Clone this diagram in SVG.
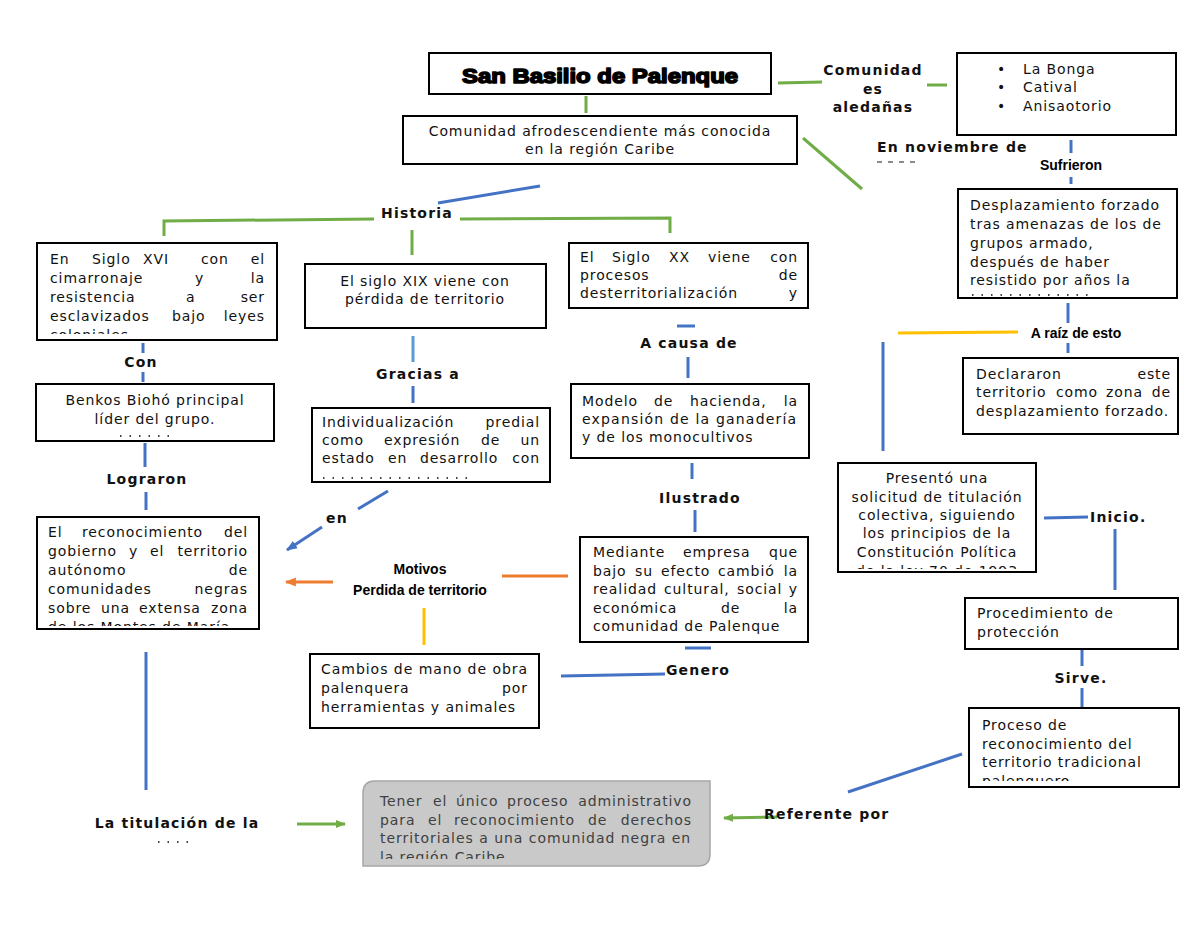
<svg xmlns="http://www.w3.org/2000/svg" width="1200" height="927" viewBox="0 0 1200 927">
<style>
.box{fill:#fff;stroke:#000;stroke-width:2}
.t{font-family:'DejaVu Sans',Verdana,sans-serif;font-size:14px;letter-spacing:0.9px;fill:#111}
.m{text-anchor:middle}
.e{text-anchor:end}
.lb{font-family:'DejaVu Sans',Verdana,sans-serif;font-weight:bold;font-size:14px;letter-spacing:1.2px;fill:#111}
.cb{font-family:'Liberation Sans',Arial,sans-serif;font-weight:bold;font-size:14px;fill:#000}
.gt{fill:#404040}
.g{stroke:#70ad47;stroke-width:3;fill:none}
.b{stroke:#4472c4;stroke-width:3;fill:none}
.lbl{stroke:#5b9bd5;stroke-width:3;fill:none}
.o{stroke:#ed7d31;stroke-width:3;fill:none}
.y{stroke:#ffc000;stroke-width:3;fill:none}
.rem{stroke:#444;stroke-width:2;stroke-dasharray:1.5 8;fill:none}
</style>
<defs>
<marker id="ag" viewBox="0 0 10 10" refX="9" refY="5" markerWidth="10" markerHeight="10" markerUnits="userSpaceOnUse" orient="auto"><path d="M0,1 L10,5 L0,9 z" fill="#70ad47"/></marker>
<marker id="ab" viewBox="0 0 10 10" refX="9" refY="5" markerWidth="11" markerHeight="11" markerUnits="userSpaceOnUse" orient="auto"><path d="M0,1 L10,5 L0,9 z" fill="#4472c4"/></marker>
<marker id="ao" viewBox="0 0 10 10" refX="9" refY="5" markerWidth="11" markerHeight="11" markerUnits="userSpaceOnUse" orient="auto"><path d="M0,1 L10,5 L0,9 z" fill="#ed7d31"/></marker>
<clipPath id="c-xvi"><rect x="38" y="244" width="238" height="90"/></clipPath>
<clipPath id="c-pres"><rect x="839" y="464" width="196" height="105"/></clipPath>
<clipPath id="c-proceso"><rect x="970" y="709" width="208" height="72"/></clipPath>
<clipPath id="c-recon"><rect x="38" y="518" width="220" height="108"/></clipPath>
<clipPath id="c-gray"><rect x="364" y="782" width="345" height="77"/></clipPath>
</defs>
<rect width="1200" height="927" fill="#fff"/>

<g id="connectors">
<line class="g" x1="778" y1="83" x2="822" y2="82"/>
<line class="g" x1="927" y1="85" x2="947" y2="85"/>
<line class="g" x1="586" y1="96" x2="586" y2="113"/>
<line class="g" x1="803" y1="138" x2="862" y2="189"/>
<polyline class="g" points="374,219 164,221 164,236"/>
<polyline class="g" points="460,219 670,218 670,233"/>
<line class="g" x1="412" y1="230" x2="412" y2="255"/>
<line class="g" x1="297" y1="824" x2="345" y2="824" marker-end="url(#ag)"/>
<line class="g" x1="777" y1="817" x2="724" y2="818" marker-end="url(#ag)"/>
<line class="b" x1="438" y1="203" x2="540" y2="186"/>
<line class="b" x1="143" y1="343" x2="143" y2="353"/>
<line class="b" x1="143" y1="372" x2="143" y2="382"/>
<line class="b" x1="145" y1="443" x2="145" y2="467"/>
<line class="b" x1="146" y1="492" x2="146" y2="510"/>
<line class="b" x1="146" y1="652" x2="146" y2="790"/>
<line class="b" x1="388" y1="491" x2="358" y2="509"/>
<line class="b" x1="322" y1="527" x2="287" y2="550" marker-end="url(#ab)"/>
<line class="lbl" x1="413" y1="336" x2="413" y2="362"/>
<line class="b" x1="413" y1="386" x2="413" y2="403"/>
<line class="b" x1="677" y1="326" x2="695" y2="326"/>
<line class="b" x1="688" y1="357" x2="688" y2="378"/>
<line class="b" x1="692" y1="463" x2="692" y2="479"/>
<line class="b" x1="695" y1="510" x2="695" y2="532"/>
<line class="b" x1="685" y1="648" x2="711" y2="648"/>
<line class="b" x1="665" y1="674" x2="561" y2="676"/>
<line class="b" x1="1071" y1="140" x2="1071" y2="153"/>
<line class="b" x1="1071" y1="177" x2="1071" y2="184"/>
<line class="b" x1="1068" y1="303" x2="1068" y2="323"/>
<line class="b" x1="1068" y1="343" x2="1068" y2="353"/>
<line class="b" x1="883" y1="342" x2="883" y2="451"/>
<line class="b" x1="1044" y1="518" x2="1088" y2="517"/>
<line class="b" x1="1115" y1="529" x2="1115" y2="590"/>
<line class="b" x1="1082" y1="650" x2="1082" y2="666"/>
<line class="b" x1="1082" y1="688" x2="1082" y2="707"/>
<line class="b" x1="962" y1="754" x2="848" y2="792"/>
<line class="o" x1="333" y1="582" x2="286" y2="582" marker-end="url(#ao)"/>
<line class="o" x1="502" y1="576" x2="568" y2="576"/>
<line class="y" x1="898" y1="333" x2="1018" y2="332"/>
<line class="y" x1="424" y1="608" x2="424" y2="645"/>
</g>

<g id="labels">
<text class="lb m" x="873" y="75">Comunidad</text>
<text class="lb m" x="873" y="94">es</text>
<text class="lb m" x="873" y="112">aledañas</text>
<text class="lb" x="877" y="152">En noviembre de</text>
<line x1="877" y1="162" x2="920" y2="162" stroke="#666" stroke-width="1.5" stroke-dasharray="5 6"/>
<text class="cb m" x="1071" y="170">Sufrieron</text>
<text class="cb m" x="1076" y="338">A raíz de esto</text>
<text class="lb m" x="417" y="218">Historia</text>
<text class="lb m" x="141" y="367">Con</text>
<text class="lb m" x="147" y="484">Lograron</text>
<text class="lb m" x="418" y="379">Gracias a</text>
<text class="lb m" x="689" y="348">A causa de</text>
<text class="lb m" x="700" y="503">Ilustrado</text>
<text class="lb m" x="698" y="675">Genero</text>
<text class="lb m" x="337" y="523">en</text>
<text class="cb m" x="420" y="574">Motivos</text>
<text class="cb m" x="420" y="595">Perdida de territorio</text>
<text class="lb" x="1090" y="522">Inicio.</text>
<text class="lb m" x="1081" y="683">Sirve.</text>
<text class="lb" x="764" y="819">Referente por</text>
<text class="lb m" x="177" y="828">La titulación de la</text>
<line class="rem" x1="158" y1="842" x2="194" y2="842"/>
</g>

<g id="n-title">
<rect class="box" x="429" y="53" width="342" height="41"/>
<text x="600" y="83" text-anchor="middle" font-family="'Liberation Sans',Arial,sans-serif" font-weight="bold" font-size="21" stroke="#000" stroke-width="1.6" stroke-linejoin="round" textLength="276" lengthAdjust="spacingAndGlyphs">San Basilio de Palenque</text>
</g>

<g id="n-comunidad">
<rect class="box" x="403" y="116" width="394" height="48"/>
<text class="t m" x="600" y="136">Comunidad afrodescendiente más conocida</text>
<text class="t m" x="600" y="154">en la región Caribe</text>
</g>

<g id="n-aledanas">
<rect class="box" x="957" y="53" width="219" height="82"/>
<text class="t" x="997" y="74">•</text><text class="t" x="1023" y="74">La Bonga</text>
<text class="t" x="997" y="92">•</text><text class="t" x="1023" y="92">Catival</text>
<text class="t" x="997" y="111">•</text><text class="t" x="1023" y="111">Anisaotorio</text>
</g>

<g id="n-desplazamiento">
<rect class="box" x="958" y="189" width="219" height="109"/>
<text class="t" x="970" y="210">Desplazamiento forzado</text>
<text class="t" x="970" y="229">tras amenazas de los de</text>
<text class="t" x="970" y="248">grupos armado,</text>
<text class="t" x="970" y="267">después de haber</text>
<text class="t" x="970" y="285">resistido por años la</text>
<line class="rem" x1="972" y1="295" x2="1095" y2="295"/>
</g>

<g id="n-declararon">
<rect class="box" x="963" y="358" width="215" height="76"/>
<text class="t" x="976" y="379">Declararon</text><text class="t e" x="1171" y="379">este</text>
<text class="t" x="976" y="397">territorio</text><text class="t" x="1056" y="397">como</text><text class="t" x="1106" y="397">zona</text><text class="t e" x="1171" y="397">de</text>
<text class="t" x="976" y="416">desplazamiento forzado.</text>
</g>

<g id="n-presento">
<rect class="box" x="838" y="463" width="198" height="109"/>
<text class="t m" x="937" y="483">Presentó una</text>
<text class="t m" x="937" y="502">solicitud de titulación</text>
<text class="t m" x="937" y="520">colectiva, siguiendo</text>
<text class="t m" x="937" y="538">los principios de la</text>
<text class="t m" x="937" y="557">Constitución Política</text>
<text class="t m" x="937" y="576" clip-path="url(#c-pres)">de la ley 70 de 1993</text>
</g>

<g id="n-procedimiento">
<rect class="box" x="965" y="598" width="213" height="51"/>
<text class="t" x="977" y="618">Procedimiento de</text>
<text class="t" x="977" y="637">protección</text>
</g>

<g id="n-proceso">
<rect class="box" x="969" y="708" width="210" height="79"/>
<text class="t" x="982" y="730">Proceso de</text>
<text class="t" x="982" y="749">reconocimiento del</text>
<text class="t" x="982" y="767">territorio tradicional</text>
<text class="t" x="982" y="786" clip-path="url(#c-proceso)">palenquero</text>
</g>

<g id="n-unico">
<path d="M375,781 H710 V854 Q710,866 698,866 H363 V793 Q363,781 375,781 Z" fill="#c9c9c9" stroke="#a6a6a6" stroke-width="1.5"/>
<text class="t gt" x="380" y="806">Tener</text><text class="t gt" x="433" y="806">el</text><text class="t gt" x="456" y="806">único</text><text class="t gt" x="507" y="806">proceso</text><text class="t gt e" x="692" y="806">administrativo</text>
<text class="t gt" x="380" y="825">para</text><text class="t gt" x="428" y="825">el</text><text class="t gt" x="454" y="825">reconocimiento</text><text class="t gt" x="588" y="825">de</text><text class="t gt e" x="692" y="825">derechos</text>
<text class="t gt" x="380" y="843" textLength="311">territoriales a una comunidad negra en</text>
<text class="t gt" x="380" y="862" clip-path="url(#c-gray)">la región Caribe</text>
</g>

<g id="n-siglo16">
<rect class="box" x="37" y="243" width="240" height="97"/>
<text class="t" x="50" y="264">En</text><text class="t" x="92" y="264">Siglo</text><text class="t" x="143" y="264">XVI</text><text class="t" x="201" y="264">con</text><text class="t e" x="265" y="264">el</text>
<text class="t" x="50" y="283">cimarronaje</text><text class="t" x="195" y="283">y</text><text class="t e" x="265" y="283">la</text>
<text class="t" x="50" y="302">resistencia</text><text class="t" x="186" y="302">a</text><text class="t e" x="265" y="302">ser</text>
<text class="t" x="50" y="321">esclavizados</text><text class="t" x="172" y="321">bajo</text><text class="t e" x="265" y="321">leyes</text>
<text class="t" x="50" y="340" clip-path="url(#c-xvi)">coloniales</text>
</g>

<g id="n-benkos">
<rect class="box" x="36" y="384" width="238" height="57"/>
<text class="t m" x="155" y="405">Benkos Biohó principal</text>
<text class="t m" x="155" y="424">líder del grupo.</text>
<line class="rem" x1="120" y1="436" x2="170" y2="436"/>
</g>

<g id="n-siglo19">
<rect class="box" x="305" y="264" width="241" height="64"/>
<text class="t m" x="425" y="286">El siglo XIX viene con</text>
<text class="t m" x="425" y="304">pérdida de territorio</text>
</g>

<g id="n-individualizacion">
<rect class="box" x="312" y="408" width="238" height="74"/>
<text class="t" x="322" y="427">Individualización</text><text class="t e" x="540" y="427">predial</text>
<text class="t" x="322" y="445">como</text><text class="t" x="384" y="445">expresión</text><text class="t" x="481" y="445">de</text><text class="t e" x="540" y="445">un</text>
<text class="t" x="322" y="463">estado</text><text class="t" x="388" y="463">en</text><text class="t" x="420" y="463">desarrollo</text><text class="t e" x="540" y="463">con</text>
<line class="rem" x1="323" y1="478" x2="470" y2="478"/>
</g>

<g id="n-siglo20">
<rect class="box" x="569" y="243" width="239" height="65"/>
<text class="t" x="580" y="262">El</text><text class="t" x="612" y="262">Siglo</text><text class="t" x="669" y="262">XX</text><text class="t" x="708" y="262">viene</text><text class="t e" x="798" y="262">con</text>
<text class="t" x="580" y="280">procesos</text><text class="t e" x="798" y="280">de</text>
<text class="t" x="580" y="298">desterritorialización</text><text class="t e" x="798" y="298">y</text>
</g>

<g id="n-modelo">
<rect class="box" x="571" y="384" width="238" height="74"/>
<text class="t" x="582" y="406">Modelo</text><text class="t" x="654" y="406">de</text><text class="t" x="690" y="406">hacienda,</text><text class="t e" x="798" y="406">la</text>
<text class="t" x="582" y="424" textLength="215">expansión de la ganadería</text>
<text class="t" x="582" y="442">y de los monocultivos</text>
</g>

<g id="n-reconocimiento">
<rect class="box" x="37" y="517" width="222" height="112"/>
<text class="t" x="48" y="537">El</text><text class="t" x="82" y="537">reconocimiento</text><text class="t e" x="248" y="537">del</text>
<text class="t" x="48" y="556">gobierno</text><text class="t" x="129" y="556">y</text><text class="t" x="150" y="556">el</text><text class="t e" x="248" y="556">territorio</text>
<text class="t" x="48" y="575">autónomo</text><text class="t e" x="248" y="575">de</text>
<text class="t" x="48" y="594">comunidades</text><text class="t e" x="248" y="594">negras</text>
<text class="t" x="48" y="613">sobre</text><text class="t" x="101" y="613">una</text><text class="t" x="139" y="613">extensa</text><text class="t e" x="248" y="613">zona</text>
<text class="t" x="48" y="632" clip-path="url(#c-recon)">de los Montes de María</text>
</g>

<g id="n-mediante">
<rect class="box" x="580" y="537" width="228" height="105"/>
<text class="t" x="593" y="557">Mediante</text><text class="t" x="683" y="557">empresa</text><text class="t e" x="798" y="557">que</text>
<text class="t" x="593" y="576">bajo</text><text class="t" x="635" y="576">su</text><text class="t" x="661" y="576">efecto</text><text class="t" x="718" y="576">cambió</text><text class="t e" x="798" y="576">la</text>
<text class="t" x="593" y="594">realidad</text><text class="t" x="664" y="594">cultural,</text><text class="t" x="737" y="594">social</text><text class="t e" x="798" y="594">y</text>
<text class="t" x="593" y="613">económica</text><text class="t" x="721" y="613">de</text><text class="t e" x="798" y="613">la</text>
<text class="t" x="593" y="631">comunidad de Palenque</text>
</g>

<g id="n-cambios">
<rect class="box" x="310" y="654" width="229" height="74"/>
<text class="t" x="321" y="674" textLength="207">Cambios de mano de obra</text>
<text class="t" x="321" y="693">palenquera</text><text class="t e" x="528" y="693">por</text>
<text class="t" x="321" y="712">herramientas y animales</text>
</g>
</svg>
